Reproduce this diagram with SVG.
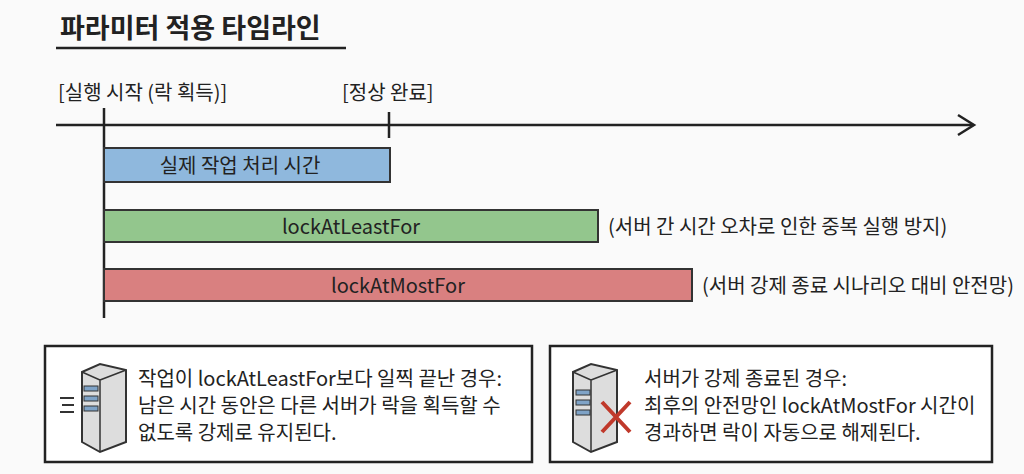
<svg xmlns="http://www.w3.org/2000/svg" width="1024" height="474" viewBox="0 0 1024 474">
<style>
text{font-family:"Noto Sans CJK KR","Noto Sans",sans-serif;fill:#222}
.t{font-size:20px}
.n{font-size:20px}
.b{stroke:#333;stroke-width:2}
.ln{stroke:#222;stroke-width:2.5;fill:none}
.box{fill:#fff;stroke:#222;stroke-width:2.5}
</style>
<rect width="1024" height="474" fill="#fafafa"/>
<g id="title"><text x="60" y="38" font-size="27" font-weight="bold">파라미터 적용 타임라인</text>
<line x1="56" y1="48" x2="346" y2="48" class="ln"/></g>
<g id="labels">
<text x="58" y="100" class="t">[실행 시작 (락 획득)]</text>
<text x="342" y="100" class="t">[정상 완료]</text>
</g>
<g id="connectors">
<line x1="56" y1="125" x2="972" y2="125" class="ln"/>
<polyline points="958,115 974,125 958,135" class="ln"/>
<line x1="104" y1="108" x2="104" y2="318" class="ln"/>
<line x1="389" y1="112" x2="389" y2="138" class="ln"/>
</g>
<g id="bar1"><rect x="104" y="148" width="286" height="34" fill="#8fb8dd" class="b"/>
<text x="240" y="173" class="t" text-anchor="middle">실제 작업 처리 시간</text></g>
<g id="bar2"><rect x="104" y="210" width="494" height="32" fill="#93c68d" class="b"/>
<text x="351" y="234" class="t" text-anchor="middle">lockAtLeastFor</text>
<text x="608" y="234" class="t">(서버 간 시간 오차로 인한 중복 실행 방지)</text></g>
<g id="bar3"><rect x="104" y="269" width="588" height="32" fill="#d98080" class="b"/>
<text x="398" y="293" class="t" text-anchor="middle">lockAtMostFor</text>
<text x="702" y="293" class="t">(서버 강제 종료 시나리오 대비 안전망)</text></g>
<g id="note1"><rect x="45" y="346" width="487" height="116" class="box"/>
<path d="M82,372 L100,364 L126,370 L126,442 L100,452 L82,442 Z" fill="#ddd" stroke="#333" stroke-width="2"/>
<path d="M82,372 L100,380 L100,452 M100,380 L126,370" fill="none" stroke="#333" stroke-width="1.5"/>
<rect x="84" y="386" width="14" height="5" fill="#7fa3c7" stroke="#333"/>
<rect x="84" y="396" width="14" height="5" fill="#7fa3c7" stroke="#333"/>
<rect x="84" y="406" width="14" height="5" fill="#7fa3c7" stroke="#333"/>
<path d="M60,398 H74 M62,405 H74 M60,412 H74" stroke="#333" stroke-width="2"/>
<text x="138" y="386" class="n">작업이 lockAtLeastFor보다 일찍 끝난 경우:</text>
<text x="138" y="413" class="n">남은 시간 동안은 다른 서버가 락을 획득할 수</text>
<text x="138" y="440" class="n">없도록 강제로 유지된다.</text></g>
<g id="note2"><rect x="550" y="346" width="442" height="116" class="box"/>
<path d="M573,372 L591,364 L617,370 L617,442 L591,452 L573,442 Z" fill="#ddd" stroke="#333" stroke-width="2"/>
<path d="M573,372 L591,380 L591,452 M591,380 L617,370" fill="none" stroke="#333" stroke-width="1.5"/>
<rect x="576" y="390" width="14" height="5" fill="#7fa3c7" stroke="#333"/>
<rect x="576" y="400" width="14" height="5" fill="#7fa3c7" stroke="#333"/>
<rect x="576" y="410" width="14" height="5" fill="#7fa3c7" stroke="#333"/>
<path d="M602,402 L630,432 M630,402 L602,432" stroke="#c0392b" stroke-width="4"/>
<text x="644" y="386" class="n">서버가 강제 종료된 경우:</text>
<text x="644" y="413" class="n">최후의 안전망인 lockAtMostFor 시간이</text>
<text x="644" y="440" class="n">경과하면 락이 자동으로 해제된다.</text></g>
</svg>
